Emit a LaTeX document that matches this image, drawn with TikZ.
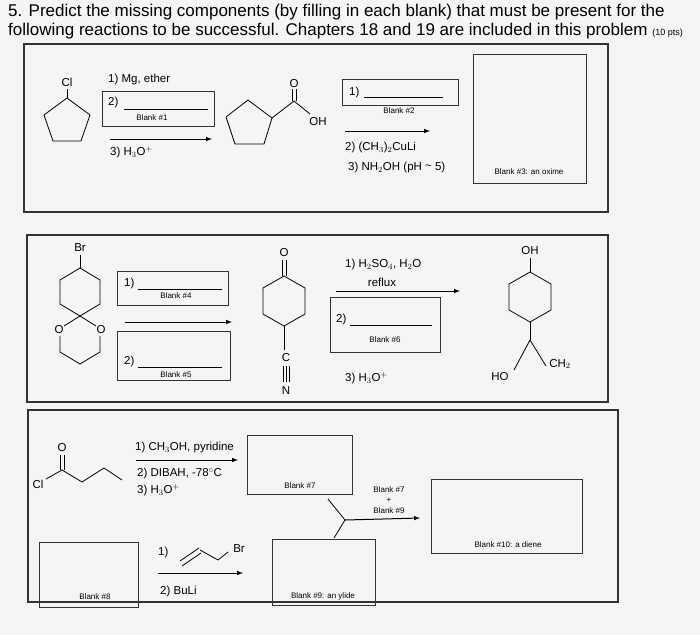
\documentclass[tikz,border=0pt]{standalone}
\usepackage{fontspec}
\setmainfont{Liberation Sans}
\begin{document}
\begin{tikzpicture}[x=1pt,y=-1pt,
  bx/.style={draw=black!80,line width=1pt},
  big/.style={draw=black!80,line width=1.2pt},
  t/.style={font=\fontsize{11.5}{13}\selectfont,inner sep=0pt},
  s/.style={font=\fontsize{8}{9}\selectfont,inner sep=0pt},
  bond/.style={line width=0.8pt},
  arr/.style={line width=1pt,-latex}]
\fill[black!4] (0,0) rectangle (700,635);
\useasboundingbox (0,0) rectangle (700,635);
\node[anchor=west,font=\fontsize{17}{19}\selectfont,inner sep=0pt] (h1) at (8,12) {5. Predict the missing components (by filling in each blank) that must be present for the};
\node[anchor=west,font=\fontsize{17}{19}\selectfont,inner sep=0pt] (h2) at (8,31) {following reactions to be successful. Chapters 18 and 19 are included in this problem {\fontsize{9}{10}\selectfont (10 pts)}};
% section boxes
\draw[big] (24,44) rectangle (608,212);
\draw[big] (27,235) rectangle (608,402);
\draw[big] (28,410) rectangle (618,602);
%% Section 1
\node[t] (cl1) at (67,82) {Cl};
\draw[bond] (67,89) -- (67,98);
\draw[bond] (67,98) -- (90,115) -- (81,141) -- (53,141) -- (44,115) -- cycle;
\node[t,anchor=west] (m1) at (108,80) {1) Mg, ether};
\draw[bx] (102,91) rectangle (214,126);
\node[t,anchor=west] (b1) at (108,103) {2)};
\draw[bond] (124,109) -- (208,109);
\node[s] (bl1) at (152,118) {Blank \#1};
\draw[arr] (110,139) -- (212,139);
\node[t,anchor=west] (h3o1) at (110,152) {3) H$_3$O$^+$};
\draw[bond] (272,118) -- (248,100) -- (226,117) -- (235,144) -- (264,144) -- cycle;
\draw[bond] (272,118) -- (294,101) -- (310,114);
\draw[bond] (292,101) -- (292,89); \draw[bond] (296,101) -- (296,89);
\node[t] (o1) at (294,84) {O};
\node[t] (oh1) at (318,122) {OH};
\draw[bx] (342,79) rectangle (458,105);
\node[t,anchor=west] (b2a) at (349,93) {1)};
\draw[bond] (364,97) -- (443,97);
\node[s] (bl2) at (399,111) {Blank \#2};
\draw[arr] (345,131) -- (430,131);
\node[t,anchor=west] (c2) at (345,148) {2) (CH$_3$)$_2$CuLi};
\node[t,anchor=west] (c3) at (348,168) {3) NH$_2$OH (pH \raisebox{0.3ex}{\textasciitilde} 5)};
\draw[bx] (473,54) rectangle (586,183);
\node[s] (bl3) at (529,172) {Blank \#3: an oxime};
%% Section 2
\node[t] (br2) at (80,248) {Br};
\draw[bond] (80,255) -- (80,268);
\draw[bond] (80,268) -- (100,280) -- (100,304) -- (80,316) -- (60,304) -- (60,280) -- cycle;
\draw[bond] (80,316) -- (64,326); \draw[bond] (80,316) -- (96,326);
\node[t] (oa) at (59,330) {O}; \node[t] (ob) at (101,330) {O};
\draw[bond] (60,336) -- (60,352) -- (80,364) -- (100,352) -- (100,336);
\draw[bx] (117,271) rectangle (228,305);
\node[t,anchor=west] (b4a) at (124,284) {1)};
\draw[bond] (138,289) -- (222,289);
\node[s] (bl4) at (176,296) {Blank \#4};
\draw[arr] (125,322) -- (232,322);
\draw[bx] (117,331) rectangle (230,380);
\node[t,anchor=west] (b5a) at (124,362) {2)};
\draw[bond] (138,367) -- (222,367);
\node[s] (bl5) at (176,375) {Blank \#5};
\node[t] (o2) at (284,253) {O};
\draw[bond] (282,260) -- (282,276); \draw[bond] (286,260) -- (286,276);
\draw[bond] (284,276) -- (305,288) -- (305,314) -- (284,326) -- (263,314) -- (263,288) -- cycle;
\draw[bond] (284,326) -- (284,350);
\node[t] (cn) at (286,358) {C};
\draw[bond] (283,366) -- (283,382); \draw[bond] (286,366) -- (286,382); \draw[bond] (289,366) -- (289,382);
\node[t] (nn) at (286,391) {N};
\node[t,anchor=west] (r21) at (345,265) {1) H$_2$SO$_4$, H$_2$O};
\node[t] (r22) at (382,282) {reflux};
\draw[arr] (336,291) -- (460,291);
\draw[bx] (330,297) rectangle (440,352);
\node[t,anchor=west] (b6a) at (336,320) {2)};
\draw[bond] (350,325) -- (432,325);
\node[s] (bl6) at (385,340) {Blank \#6};
\node[t,anchor=west] (h3o2) at (345,378) {3) H$_3$O$^+$};
\node[t] (oh2) at (530,251) {OH};
\draw[bond] (530,258) -- (530,272);
\draw[bond] (530,272) -- (551,284) -- (551,310) -- (530,322) -- (509,310) -- (509,284) -- cycle;
\draw[bond] (530,322) -- (530,340);
\draw[bond] (530,340) -- (514,370); \draw[bond] (530,340) -- (546,366);
\node[t] (ch2) at (560,364) {CH$_2$};
\node[t] (ho2) at (500,377) {HO};
%% Section 3
\node[t] (o3) at (62,448) {O};
\draw[bond] (60,455) -- (60,470); \draw[bond] (64,455) -- (64,470);
\draw[bond] (46,479) -- (62,470) -- (82,482) -- (104,468) -- (122,480);
\node[t] (cl3) at (38,484) {Cl};
\node[t,anchor=west] (r31) at (135,448) {1) CH$_3$OH, pyridine};
\draw[arr] (136,460) -- (238,460);
\node[t,anchor=west] (r32) at (137,474) {2) DIBAH, -78$^\circ$C};
\node[t,anchor=west] (r33) at (137,490) {3) H$_3$O$^+$};
\draw[bx] (247,435) rectangle (352,494);
\node[s] (bl7) at (300,486) {Blank \#7};
\coordinate (j) at (345,520);
\draw[bond] (328,499) -- (j) -- (334,538);
\draw[arr] (j) -- (420,518);
\node[s] (p1) at (389,490) {Blank \#7};
\node[s] (p2) at (389,500) {+};
\node[s] (p3) at (389,511) {Blank \#9};
\draw[bx] (431,479) rectangle (582,553);
\node[s] (bl10) at (508,545) {Blank \#10: a diene};
\draw[bx] (39,542) rectangle (138,607);
\node[s] (bl8) at (95,597) {Blank \#8};
\node[t,anchor=west] (r41) at (158,553) {1)};
\draw[bond] (180,561) -- (199,548); \draw[bond] (182,566) -- (201,553);
\draw[bond] (200,550) -- (218,560) -- (228,552);
\node[t] (br3) at (239,549) {Br};
\draw[arr] (158,573) -- (243,573);
\node[t,anchor=west] (r42) at (160,592) {2) BuLi};
\draw[bx] (272,539) rectangle (375,605);
\node[s] (bl9) at (323,596) {Blank \#9: an ylide};
\end{tikzpicture}
\end{document}
